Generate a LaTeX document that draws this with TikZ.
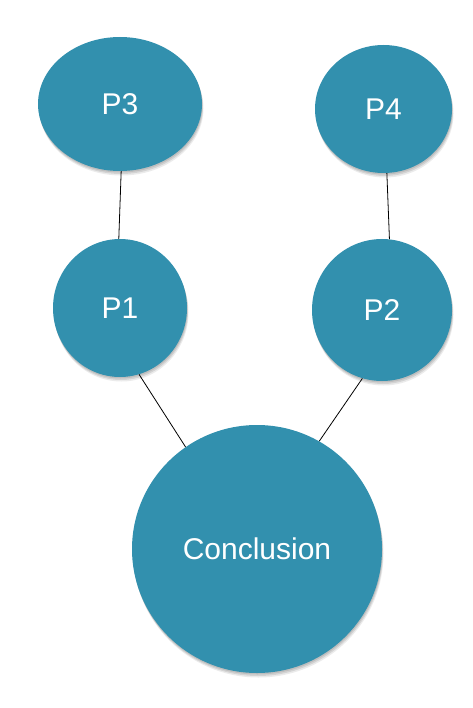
\documentclass[tikz,border=0pt]{standalone}
\usepackage{fontspec}
\setmainfont{Liberation Sans}
\usetikzlibrary{shapes.geometric,shadows}
\definecolor{bubblefill}{RGB}{50,144,174}
\tikzset{
  bubble/.style={ellipse, fill=bubblefill, inner sep=0pt, text=white,
    font=\fontsize{30}{33}\selectfont,
    drop shadow={opacity=0.10, shadow xshift=0.5pt, shadow yshift=-1.5pt, fill=black},
    drop shadow={opacity=0.10, shadow xshift=1pt, shadow yshift=-3pt, fill=black},
    drop shadow={opacity=0.08, shadow xshift=1.5pt, shadow yshift=-4.5pt, fill=black}},
  link/.style={draw=black, line width=0.8pt}
}
\begin{document}
\begin{tikzpicture}[x=1pt,y=-1pt]
\useasboundingbox (0,0) rectangle (472,708);
\node[bubble, minimum width=164pt, minimum height=134pt] (P3) at (120,104) {P3};
\node[bubble, minimum width=137pt, minimum height=128pt] (P4) at (383.5,109) {P4};
\node[bubble, minimum width=134pt, minimum height=138pt] (P1) at (120,308) {P1};
\node[bubble, minimum width=140pt, minimum height=142pt] (P2) at (382,310) {P2};
\node[bubble, minimum width=250pt, minimum height=248pt] (C) at (257,549) {Conclusion};
\draw[link] (P3.-89) -- (P1.91);
\draw[link] (P4.-87) -- (P2.84);
\draw[link] (P1.-74) -- (C.125.5);
\draw[link] (P2.-106.4) -- (C.60.8);
\end{tikzpicture}
\end{document}
